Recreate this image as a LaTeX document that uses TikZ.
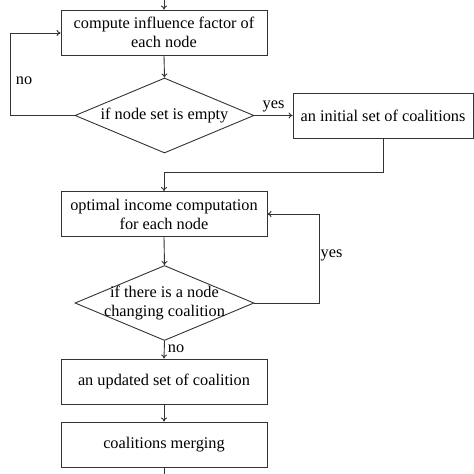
\documentclass[tikz,border=0pt]{standalone}
\usepackage{fontspec}
\setmainfont{Liberation Serif}
\usetikzlibrary{shapes.geometric,arrows.meta}
\begin{document}
\begin{tikzpicture}[x=1pt,y=-1pt,
  every node/.style={font=\fontsize{16.3}{19}\selectfont, text=black},
  box/.style={draw=black!80, line width=0.9pt, minimum width=206pt, minimum height=45pt, inner sep=0pt, align=center},
  dia/.style={draw=black!80, line width=0.9pt, shape=diamond, minimum width=179pt, minimum height=75pt, inner sep=0pt},
  lbl/.style={inner sep=0pt, align=center},
  conn/.style={draw=black!80, line width=0.9pt},
  arr/.style={conn, -{To[length=4pt,width=6pt]}}]
\useasboundingbox (0,0) rectangle (474,474);
\coordinate (top) at (164,0);
\coordinate (bot) at (164,474);
\node[box] (b1) at (164,32.5) {compute influence factor of\\each node};
\node[dia] (d1) at (164.5,115.5) {};
\node[lbl] (d1t) at (164.5,115.5) {if node set is empty};
\node[box, minimum width=180pt] (b2) at (383,115.5) {an initial set of coalitions};
\node[box] (b3) at (164,214) {optimal income computation\\for each node};
\node[dia] (d2) at (164.5,303) {};
\node[lbl] (d2t) at (164.5,303) {if there is a node\\changing coalition};
\node[box] (b4) at (164,381.5) {an updated set of coalition};
\node[box] (b5) at (164,444.5) {coalitions merging};
\coordinate (l1) at (10,115.5);
\coordinate (l2) at (10,33);
\coordinate (r1) at (319,303);
\coordinate (r2) at (319,214);
\coordinate (m1) at (383,172);
\coordinate (m2) at (164,172);
\draw[arr] (top) -- (b1.north);
\draw[arr] (b1.south) -- (d1.north);
\draw[conn] (d1.west) -- (l1) -- (l2);
\draw[arr] (l2) -- (b1.west |- l2);
\node[lbl] (no1) at (24,81) {no};
\draw[arr] (d1.east) -- (b2.west);
\node[lbl] (yes1) at (273.5,106) {yes};
\draw[conn] (b2.south) -- (m1) -- (m2);
\draw[arr] (m2) -- (b3.north);
\draw[arr] (b3.south) -- (d2.north);
\draw[conn] (d2.east) -- (r1) -- (r2);
\draw[arr] (r2) -- (b3.east |- r2);
\node[lbl] (yes2) at (331.5,255) {yes};
\draw[arr] (d2.south) -- (b4.north);
\node[lbl] (no2) at (176,349) {no};
\draw[arr] (b4.south) -- (b5.north);
\draw[conn] (b5.south) -- (bot);
\end{tikzpicture}
\end{document}
